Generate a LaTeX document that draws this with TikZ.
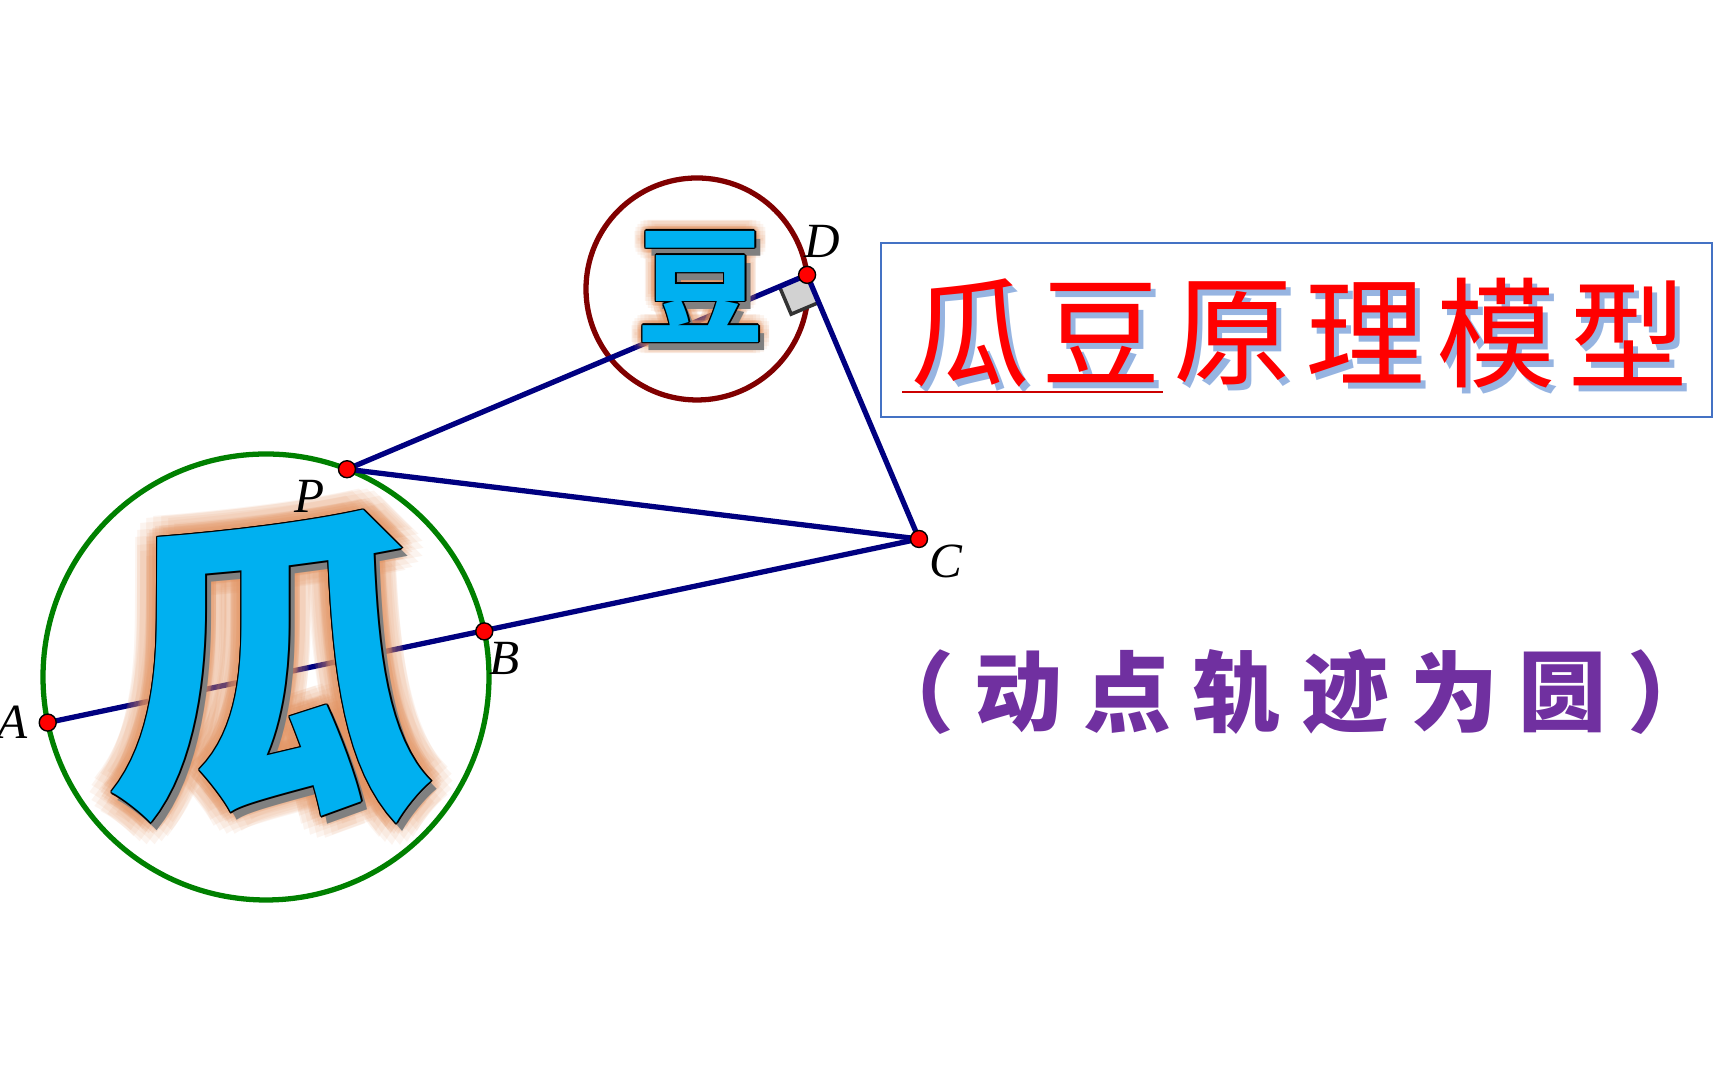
\documentclass[tikz,border=0pt]{standalone}
\usepackage{fontspec}
\usepackage{xcolor}
\usepackage{tikz}
\usetikzlibrary{calc}
\newfontfamily\cjk{Noto Sans CJK SC}
\newfontfamily\lblfont{Liberation Serif}
\definecolor{navyline}{RGB}{0,0,128}
\definecolor{guagreen}{RGB}{0,128,0}
\definecolor{doured}{RGB}{128,0,0}
\definecolor{glyphblue}{RGB}{0,176,240}
\definecolor{glowpeach}{RGB}{225,145,95}
\definecolor{titlered}{RGB}{255,0,0}
\definecolor{titleshade}{RGB}{150,180,225}
\definecolor{subpurple}{RGB}{112,48,160}
\definecolor{boxblue}{RGB}{68,114,196}
\tikzset{
  segment/.style={navyline, line width=1.5pt},
  locus/.style={line width=1.5pt},
  pt/.style={circle, fill=red, draw=black, line width=0.4pt, inner sep=0pt, minimum size=1.7mm},
  ptlabel/.style={font=\lblfont\itshape\fontsize{14}{16}\selectfont, inner sep=0pt},
  rightmark/.style={fill=gray!35, draw=gray!40!black, line width=1pt},
  glyph/.style={font=\cjk\bfseries\fontsize{#1}{#1}\selectfont, inner sep=0pt},
  titlechar/.style={font=\cjk\fontsize{34}{34}\selectfont, inner sep=0pt},
  subchar/.style={font=\cjk\bfseries\fontsize{25}{25}\selectfont, inner sep=0pt, text=subpurple},
}

\begin{document}
\begin{tikzpicture}
\useasboundingbox (0,0) rectangle (17.28,10.8);
% 瓜豆 model -- all coordinates absolute, 1 unit = 100 px
\pgfmathsetmacro{\Rg}{2.23}  % radius of the melon circle
\pgfmathsetmacro{\Rd}{1.11}  % radius of the bean circle

% Helper: glowing glyph with shadow and dark rim
\newcommand{\glowglyph}[5]{% name, centre, font size (pt), glow radius (mm), character
  \foreach \ga [count=\gk] in {0,20,...,340} {
    \node[glyph=#3, text=glowpeach, text opacity=0.10] (#1-halo-\gk) at ($(#2)+(\ga:#4mm)$) {#5};
    \node[glyph=#3, text=glowpeach, text opacity=0.14] (#1-glow-\gk) at ($(#2)+(\ga:0.5*#4mm)$) {#5};
  }
  \node[glyph=#3, text=gray] (#1-shadow) at ($(#2)+(0.6mm,-0.8mm)$) {#5};
  \foreach \ga [count=\gk] in {0,45,...,315}
    \node[glyph=#3, text=black] (#1-rim-\gk) at ($(#2)+(\ga:0.15mm)$) {#5};
  \node[glyph=#3, text=glyphblue] (#1) at (#2) {#5};
}

% 1. Circles and points
\coordinate (Og) at (2.66,4.03);
\coordinate (Od) at (6.97,7.91);
\coordinate (A) at ($(Og)+(191.8:\Rg)$);
\coordinate (B) at ($(Og)+(11.8:\Rg)$);
\coordinate (P) at ($(Og)+(68.7:\Rg)$);
\coordinate (D) at ($(Od)+(7.3:\Rd)$);
\coordinate (C) at (9.19,5.41);
\draw[locus, guagreen] (Og) circle (\Rg);
\draw[locus, doured] (Od) circle (\Rd);

% 2. Right angle at D
\coordinate (Dp) at ($(D)!3mm!(P)$);
\coordinate (Dc) at ($(D)!3mm!(C)$);
\draw[rightmark] (D) -- (Dp) -- ($(Dp)+(Dc)-(D)$) -- (Dc) -- cycle;

% 3. Segments
\draw[segment] (A) -- (C);
\draw[segment] (C) -- (P);
\draw[segment] (P) -- (D);
\draw[segment] (D) -- (C);

% 4. Glyphs -- drawn over the segments
\coordinate (guapos) at (2.71,4.13);
\coordinate (doupos) at (7.01,7.93);
\glowglyph{gua}{guapos}{94}{2.2}{瓜}
\glowglyph{dou}{doupos}{36}{1.1}{豆}

% 5. Points and labels
\foreach \p in {A,B,C,P,D}
  \node[pt] (pt\p) at (\p) {};
\node[ptlabel] (labA) at ($(A)+(-0.35,0)$) {A};
\node[ptlabel] (labB) at ($(B)+(0.2,-0.27)$) {B};
\node[ptlabel] (labC) at ($(C)+(0.27,-0.22)$) {C};
\node[ptlabel] (labP) at ($(P)+(-0.37,-0.27)$) {P};
\node[ptlabel] (labD) at ($(D)+(0.15,0.33)$) {D};

% 6. Title box
\draw[boxblue, line width=0.6pt] (8.81,8.37) rectangle (17.12,6.63);
\foreach \ch [count=\k from 0] in {瓜,豆,原,理,模,型} {
  \pgfmathsetmacro{\tx}{9.70+\k*1.316}
  \node[titlechar, text=titleshade] (title-shade-\k) at ({\tx+0.05},7.41) {\ch};
  \node[titlechar, text=titlered] (title-\k) at (\tx,7.47) {\ch};
}
\draw[red!80!black, line width=0.7pt] (9.02,6.88) -- (11.63,6.88);

% 7. Subtitle
\foreach \ch [count=\k from 0] in {（,动,点,轨,迹,为,圆,）} {
  \pgfmathsetmacro{\sx}{9.10+\k*1.088}
  \node[subchar] (sub-\k) at (\sx,3.88) {\ch};
}
\end{tikzpicture}
\end{document}
